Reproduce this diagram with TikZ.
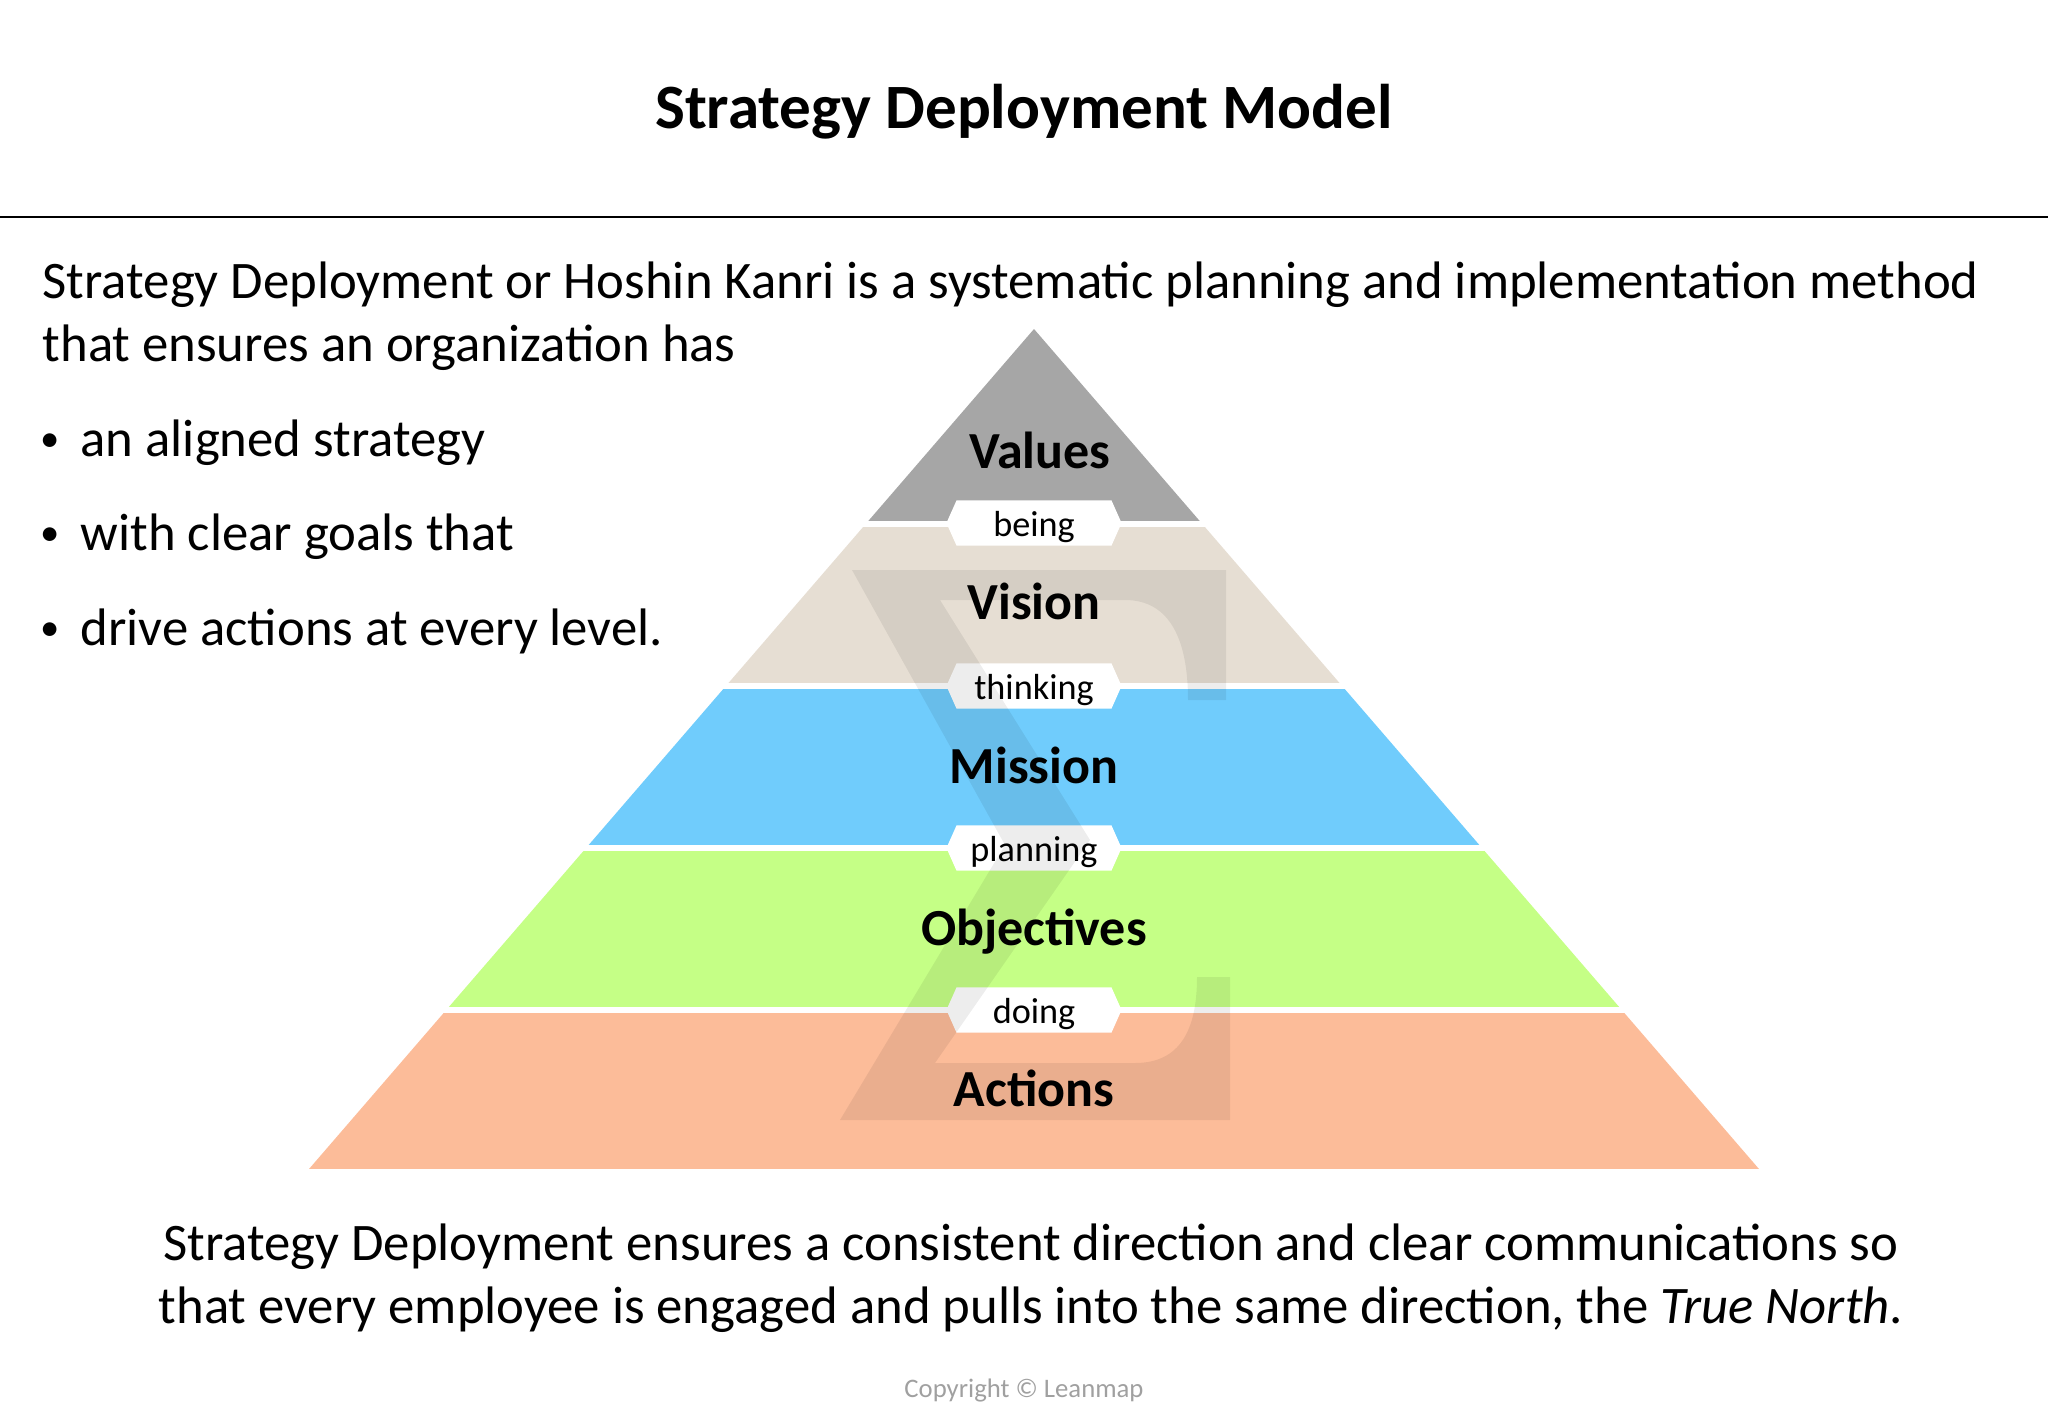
\documentclass[tikz,border=0pt]{standalone}
\usepackage{fontspec}
\setmainfont{Carlito}
\usetikzlibrary{shapes.symbols, calc}
\definecolor{valuescolor}{RGB}{166,166,166}
\definecolor{visioncolor}{RGB}{230,222,211}
\definecolor{missioncolor}{RGB}{112,204,252}
\definecolor{objectivescolor}{RGB}{197,255,134}
\definecolor{actionscolor}{RGB}{252,188,153}
\definecolor{copycolor}{RGB}{160,160,160}
\tikzstyle{titletext} = [font=\fontsize{17.95}{21}\selectfont\bfseries, anchor=base, inner sep=0pt]
\tikzstyle{bodytext} = [font=\fontsize{15}{18}\selectfont, anchor=base west, inner sep=0pt]
\tikzstyle{bulletdot} = [font=\fontsize{11}{13}\selectfont, anchor=base, inner sep=0pt]
\tikzstyle{layerlabel} = [font=\fontsize{14.8}{17}\selectfont\bfseries, anchor=base, inner sep=0pt]
\tikzstyle{tag} = [signal, signal to=west and east, signal pointer angle=132, fill=white, minimum width=1.75cm, minimum height=0.45cm, inner sep=0pt, text height=9.4pt, text depth=1.8pt, font=\fontsize{10.3}{12}\selectfont]

\begin{document}
\begin{tikzpicture}[x=0.01cm, y=-0.01cm]
\useasboundingbox (0,0) rectangle (2048,1418);

% Heading
\node[titletext] (title) at (1024,128) {Strategy Deployment Model};
\coordinate (ruleL) at (0,217);
\coordinate (ruleR) at (2048,217);
\draw[line width=0.7pt] (ruleL) -- (ruleR);

% Intro text
\node[bodytext] (intro1) at (42,298) {Strategy Deployment or Hoshin Kanri is a systematic planning and implementation method};
\node[bodytext] (intro2) at (42,361) {that ensures an organization has};
\node[bulletdot] (dot1) at (50,451) {\textbullet};
\node[bodytext] (point1) at (80,456) {an aligned strategy};
\node[bulletdot] (dot2) at (50,545) {\textbullet};
\node[bodytext] (point2) at (80,550) {with clear goals that};
\node[bulletdot] (dot3) at (50,640) {\textbullet};
\node[bodytext] (point3) at (80,645) {drive actions at every level.};

% Pyramid layers
\coordinate (apex) at (1034,329);
\coordinate (bl) at (309,1169);
\coordinate (br) at (1759,1169);
\begin{scope}
\clip (apex) -- (bl) -- (br) -- cycle;
\fill[valuescolor] (300,320) rectangle (1770,521);
\fill[visioncolor] (300,527) rectangle (1770,683);
\fill[missioncolor] (300,689) rectangle (1770,845);
\fill[objectivescolor] (300,851) rectangle (1770,1007);
\fill[actionscolor] (300,1013) rectangle (1770,1169);
\end{scope}

% Tags between layers
\node[tag] (being) at (1034,523) {being};
\node[tag] (thinking) at (1034,686) {thinking};
\node[tag] (planning) at (1034,848) {planning};
\node[tag] (doing) at (1034,1010) {doing};

% Watermark
\fill[black, opacity=0.07] (852,570) -- (1226,570) -- (1226,700) -- (1188,700)
  .. controls (1188,640) and (1170,600) .. (1125,600) -- (940,600) -- (1090,840)
  -- (935,1063) -- (1135,1063) .. controls (1180,1063) and (1197,1030) .. (1197,977)
  -- (1230,977) -- (1230,1120) -- (840,1120) -- (1005,845) -- cycle;

% Layer labels
\node[layerlabel] (values) at (1040,468) {Values};
\node[layerlabel] (vision) at (1034,619) {Vision};
\node[layerlabel] (mission) at (1034,783) {Mission};
\node[layerlabel] (objectives) at (1034,945) {Objectives};
\node[layerlabel] (actions) at (1034,1106) {Actions};

% Closing text
\node[bodytext, anchor=base] (close1) at (1031,1260) {Strategy Deployment ensures a consistent direction and clear communications so};
\node[bodytext, anchor=base] (close2) at (1031,1323) {that every employee is engaged and pulls into the same direction, the \textit{True North}.};
\node[font=\fontsize{7.6}{9}\selectfont, text=copycolor, anchor=base, inner sep=0pt] (copyright) at (1024,1397) {Copyright © Leanmap};

\end{tikzpicture}
\end{document}
